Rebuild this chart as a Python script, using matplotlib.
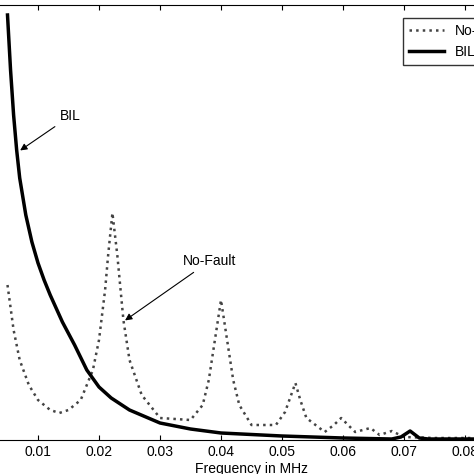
import matplotlib
matplotlib.use("Agg")
from matplotlib import pyplot as plt

plt.rcParams['font.family'] = ['Liberation Sans', 'DejaVu Sans']

bil_f = [0.0050, 0.0055, 0.0060, 0.0065, 0.0070, 0.008, 0.009, 0.010, 0.011, 0.012, 0.014, 0.016,
         0.018, 0.020, 0.022, 0.025, 0.030, 0.035, 0.040, 0.050, 0.060, 0.068, 0.0695, 0.0710,
         0.0725, 0.074, 0.090]
bil_v = [425, 370, 325, 290, 262, 225, 198, 177, 160, 145, 118, 95,
         70, 53, 42, 30, 17, 11, 7, 4, 2, 1, 3, 9,
         2, 1, 1]

nf_f = [0.0050, 0.006, 0.007, 0.0085, 0.010, 0.012, 0.0135, 0.015, 0.017, 0.019, 0.020, 0.021,
        0.0215, 0.0222, 0.023, 0.024, 0.025, 0.027, 0.030, 0.035, 0.037, 0.038, 0.039, 0.0400,
        0.041, 0.042, 0.043, 0.045, 0.049, 0.0505, 0.0515, 0.0522, 0.053, 0.054, 0.057, 0.0585,
        0.0597, 0.061, 0.062, 0.0645, 0.066, 0.068, 0.070, 0.075, 0.090]
nf_v = [155, 110, 80, 55, 40, 30, 27, 30, 40, 70, 100, 150,
        185, 227, 185, 120, 80, 45, 22, 20, 35, 60, 100, 140,
        100, 60, 35, 15, 15, 28, 45, 57, 40, 22, 8, 15,
        22, 14, 8, 12, 5, 9, 3, 2, 2]

fig = plt.figure(figsize=(4.74, 4.74), dpi=100)
ax = fig.add_axes([-23 / 474, 34 / 474, 549 / 474, 435 / 474])
ax.plot(nf_f, nf_v, color='#444444', linestyle=':', linewidth=1.8, label='No-Fault')
ax.plot(bil_f, bil_v, color='black', linewidth=2.5, label='BIL')
ax.set_xlim(0, 0.09)
ax.set_ylim(0, 435)
ax.set_xticks([0.01, 0.02, 0.03, 0.04, 0.05, 0.06, 0.07, 0.08])
ax.set_xticklabels(['0.01', '0.02', '0.03', '0.04', '0.05', '0.06', '0.07', '0.08'])
ax.set_yticks([])
ax.tick_params(axis='x', direction='in', top=True, labelsize=10)
ax.set_xlabel('Frequency in MHz', fontsize=10, labelpad=2)

ax.annotate('BIL', xy=(0.0067, 288), xytext=(0.0136, 320), fontsize=10,
            arrowprops=dict(arrowstyle='-|>', color='black', lw=0.8))
ax.annotate('No-Fault', xy=(0.0239, 118), xytext=(0.0338, 175), fontsize=10,
            arrowprops=dict(arrowstyle='-|>', color='black', lw=0.8))

ax.legend(loc='upper right', bbox_to_anchor=(0.99, 0.985), fancybox=False,
          edgecolor='black', fontsize=10, handlelength=2.5)

fig.savefig('out.png', dpi=100)
